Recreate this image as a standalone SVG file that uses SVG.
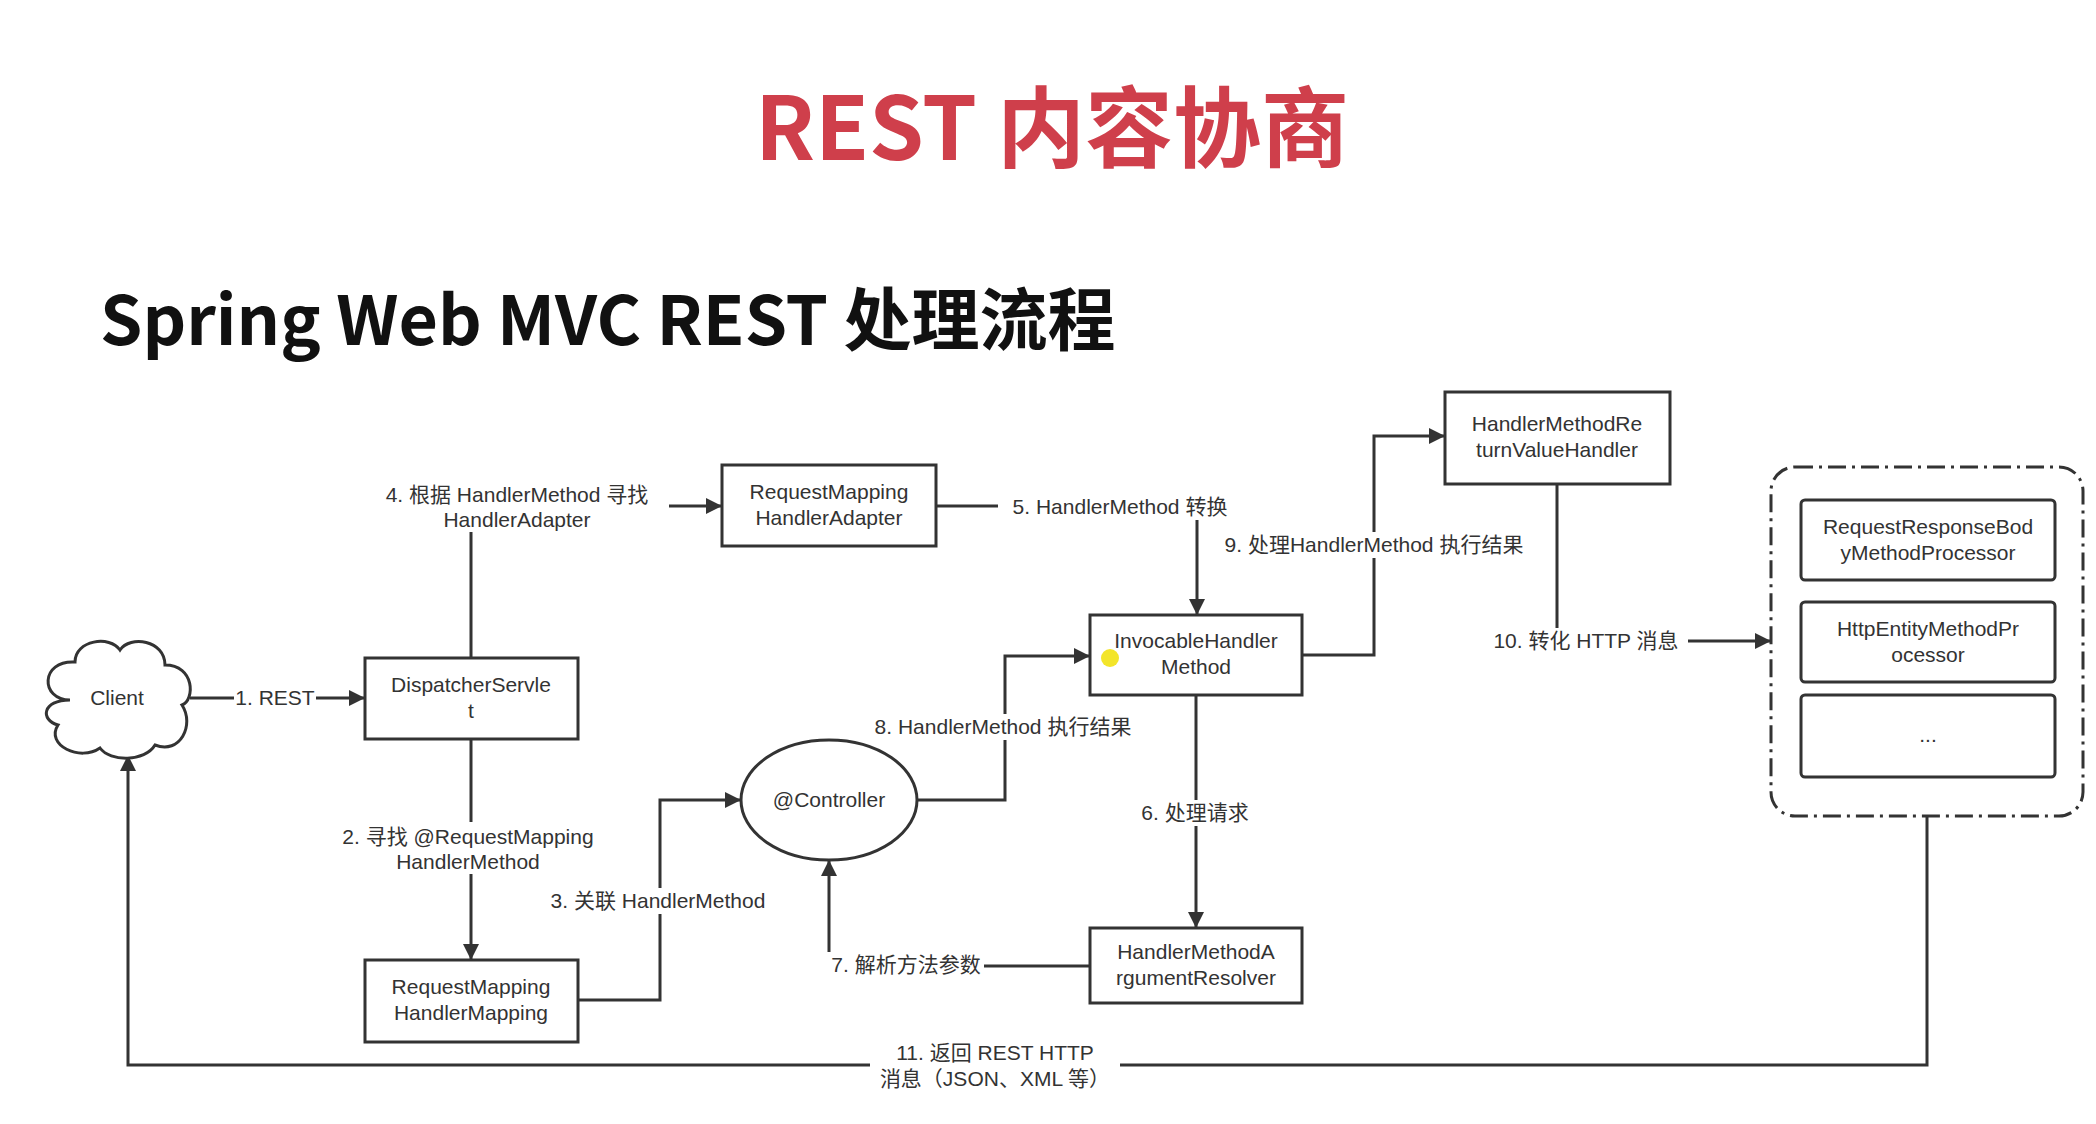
<svg xmlns="http://www.w3.org/2000/svg" width="2096" height="1124" viewBox="0 0 2096 1124">
<defs>
<marker id="b" viewBox="0 0 10 10" refX="10" refY="5" markerWidth="22" markerHeight="16" markerUnits="userSpaceOnUse" orient="auto"><path d="M0,0 L10,5 L0,10 Z" fill="#333"/></marker>
</defs>
<style>
.box{fill:#fff;stroke:#333;stroke-width:3}
.t{font-family:"Liberation Sans","Noto Sans CJK SC",sans-serif;font-size:21px;fill:#333;text-anchor:middle}
.l{font-family:"Liberation Sans","Noto Sans CJK SC",sans-serif;font-size:21px;fill:#333;text-anchor:middle}
.c{fill:none;stroke:#333;stroke-width:3;marker-end:url(#b)}
.bg{fill:#fff}
</style>
<rect width="2096" height="1124" fill="#fff"/>
<text x="1052" y="160" font-family="'Noto Sans CJK SC',sans-serif" font-weight="bold" font-size="88" fill="#cf3f4b" text-anchor="middle">REST 内容协商</text>
<text x="100" y="345" font-family="'Noto Sans CJK SC',sans-serif" font-weight="bold" font-size="68" fill="#111">Spring Web MVC REST 处理流程</text>
<g id="connectors">
<path class="c" d="M190,698 H365"/>
<path class="c" d="M471,739 V960"/>
<path class="c" d="M578,1000 H660 V800 H741"/>
<path class="c" d="M471,658 V506 H722"/>
<path class="c" d="M936,506 H1197 V615"/>
<path class="c" d="M1196,695 V928"/>
<path class="c" d="M1090,966 H829 V860"/>
<path class="c" d="M917,800 H1005 V656 H1090"/>
<path class="c" d="M1302,655 H1374 V436 H1445"/>
<path class="c" d="M1557,484 V641 H1771"/>
<path class="c" d="M1927,816 V1065 H128 V755"/>
<rect class="bg" x="234" y="686" width="82" height="24"/><text class="l" x="275" y="705">1. REST</text>
<rect class="bg" x="330" y="822" width="278" height="52"/><text class="l" x="468" y="844">2. 寻找 @RequestMapping</text><text class="l" x="468" y="869">HandlerMethod</text>
<rect class="bg" x="535" y="888" width="248" height="26"/><text class="l" x="658" y="908">3. 关联 HandlerMethod</text>
<rect class="bg" x="367" y="480" width="302" height="52"/><text class="l" x="517" y="502">4. 根据 HandlerMethod 寻找</text><text class="l" x="517" y="527">HandlerAdapter</text>
<rect class="bg" x="998" y="494" width="244" height="26"/><text class="l" x="1120" y="514">5. HandlerMethod 转换</text>
<rect class="bg" x="1132" y="800" width="126" height="26"/><text class="l" x="1195" y="820">6. 处理请求</text>
<rect class="bg" x="826" y="952" width="158" height="26"/><text class="l" x="906" y="972">7. 解析方法参数</text>
<rect class="bg" x="860" y="714" width="288" height="26"/><text class="l" x="1003" y="734">8. HandlerMethod 执行结果</text>
<rect class="bg" x="1214" y="532" width="320" height="26"/><text class="l" x="1374" y="552">9. 处理HandlerMethod 执行结果</text>
<rect class="bg" x="1484" y="628" width="204" height="26"/><text class="l" x="1586" y="648">10. 转化 HTTP 消息</text>
<rect class="bg" x="870" y="1038" width="250" height="54"/><text class="l" x="995" y="1060">11. 返回 REST HTTP</text><text class="l" x="995" y="1086">消息（JSON、XML 等）</text>
</g>
<g id="client"><path class="box" d="M70,700 C40,700 40,660 75,662 C75,640 110,635 120,650 C130,635 165,640 165,665 C195,665 195,700 182,705 C195,725 180,755 155,745 C145,762 110,762 100,748 C80,762 45,745 58,725 C40,720 42,700 70,700 Z"/><text class="t" x="117" y="705">Client</text></g>
<g id="dispatcher"><rect class="box" x="365" y="658" width="213" height="81"/><text class="t" x="471" y="692">DispatcherServle</text><text class="t" x="471" y="718">t</text></g>
<g id="hm"><rect class="box" x="365" y="960" width="213" height="82"/><text class="t" x="471" y="994">RequestMapping</text><text class="t" x="471" y="1020">HandlerMapping</text></g>
<g id="ha"><rect class="box" x="722" y="465" width="214" height="81"/><text class="t" x="829" y="499">RequestMapping</text><text class="t" x="829" y="525">HandlerAdapter</text></g>
<g id="controller"><ellipse class="box" cx="829" cy="800" rx="88" ry="60"/><text class="t" x="829" y="807">@Controller</text></g>
<g id="ihm"><rect class="box" x="1090" y="615" width="212" height="80"/><circle cx="1110" cy="658" r="9" fill="#f3e52a"/><text class="t" x="1196" y="648">InvocableHandler</text><text class="t" x="1196" y="674">Method</text></g>
<g id="ar"><rect class="box" x="1090" y="928" width="212" height="75"/><text class="t" x="1196" y="959">HandlerMethodA</text><text class="t" x="1196" y="985">rgumentResolver</text></g>
<g id="rvh"><rect class="box" x="1445" y="392" width="225" height="92"/><text class="t" x="1557" y="431">HandlerMethodRe</text><text class="t" x="1557" y="457">turnValueHandler</text></g>
<g id="processors">
<rect x="1771" y="467" width="312" height="349" rx="24" fill="none" stroke="#333" stroke-width="3" stroke-dasharray="18,6,3,6"/>
<rect class="box" x="1801" y="500" width="254" height="80" rx="4"/><text class="t" x="1928" y="534">RequestResponseBod</text><text class="t" x="1928" y="560">yMethodProcessor</text>
<rect class="box" x="1801" y="602" width="254" height="80" rx="4"/><text class="t" x="1928" y="636">HttpEntityMethodPr</text><text class="t" x="1928" y="662">ocessor</text>
<rect class="box" x="1801" y="695" width="254" height="82" rx="4"/><text class="t" x="1928" y="742" font-size="14">...</text>
</g>
</svg>
